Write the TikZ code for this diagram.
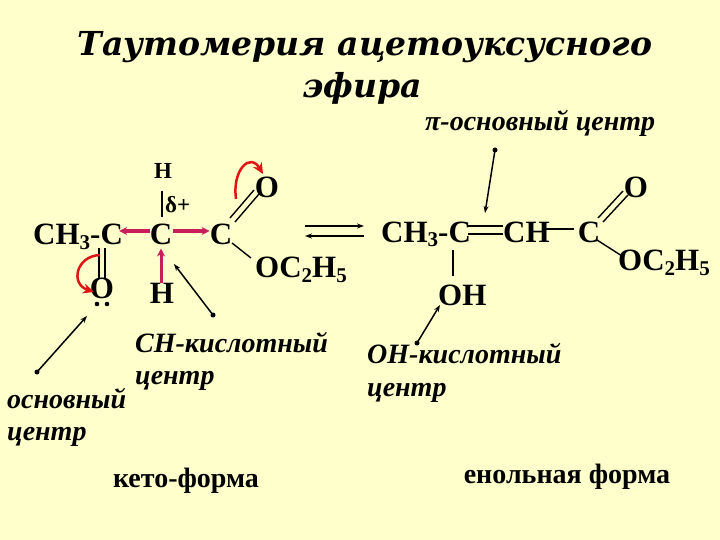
\documentclass[tikz,border=0pt]{standalone}
\usepackage{fontspec}
\setmainfont{Liberation Serif}
\newfontfamily\titlefont{DejaVu Serif}
\usetikzlibrary{arrows.meta}
\definecolor{bg}{RGB}{255,255,204}
\definecolor{crim}{RGB}{200,30,90}
\definecolor{redarr}{RGB}{225,20,20}
\newcommand\chsub[1]{\raisebox{-5pt}{\fontsize{21}{21}\selectfont #1}}
\begin{document}
\begin{tikzpicture}[x=1pt,y=-1pt,
  chem/.style={font=\fontsize{31}{32}\selectfont\bfseries, inner sep=0pt},
  chems/.style={font=\fontsize{23}{24}\selectfont\bfseries, inner sep=0pt},
  lab/.style={font=\fontsize{28}{29}\selectfont\bfseries\itshape, inner sep=0pt, anchor=base west},
  form/.style={font=\fontsize{28}{30}\selectfont\bfseries, inner sep=0pt, anchor=base},
  ttl/.style={font=\fontsize{33}{35}\selectfont\titlefont\bfseries\itshape, inner sep=0pt, anchor=base},
  bond/.style={line width=1.4pt},
  crarrow/.style={crim, line width=3pt, -{Stealth[length=8pt,width=8pt]}},
  redcurve/.style={redarr, line width=2.5pt, -{Stealth[length=11pt,width=10pt]}},
  ptr/.style={line width=1.5pt, -{Stealth[length=7pt,width=5pt]}},
  eq/.style={line width=1.5pt, -{Stealth[length=7pt,width=5pt]}},
  dotc/.style={circle, fill=black, inner sep=0pt, minimum size=5pt}]
\fill[bg] (0,0) rectangle (720,540);
\useasboundingbox (0,0) rectangle (720,540);

% title
\node[ttl] (t1) at (365,56) {Таутомерия ацетоуксусного};
\node[ttl] (t2) at (362,98) {эфира};

% keto form
\node[chem, anchor=base west] (k1) at (33,244) {CH\chsub{3}-C};
\node[chem, anchor=base] (k2) at (161,244) {C};
\node[chem, anchor=base] (k3) at (221,244) {C};
\node[chems, anchor=base] (kHt) at (163,179) {H};
\node[font=\fontsize{23}{24}\selectfont\bfseries, inner sep=0pt, anchor=base west] (kdel) at (165,212) {δ+};
\node[chem, anchor=base] (kO1) at (267,197) {O};
\node[chem, anchor=base west] (kOEt) at (255,277) {OC\chsub{2}H\chsub{5}};
\node[chem, anchor=base] (kO2) at (102,298) {O};
\node[chem, anchor=base] (kHb) at (162,303) {H};
\fill (97,304) circle (2.3pt) (107,304) circle (2.3pt);

\draw[bond] (99,248) -- (99,279) (105,248) -- (105,279);
\draw[bond] (162,191) -- (162,217);
\draw[bond] (230,218) -- (254,190) (235,222) -- (259,194);
\draw[bond] (232,243) -- (251,258);

\draw[crarrow] ([yshift=13pt]k2.base west) -- ([yshift=13pt,xshift=-4pt]k1.base east);
\draw[crarrow] ([yshift=13pt,xshift=1pt]k2.base east) -- ([yshift=13pt]k3.base west);
\draw[crarrow] ([xshift=-1pt]kHb.north) -- ([yshift=-4pt]k2.south);

\draw[redcurve] (100,255) .. controls (76,256) and (70,284) .. (94,292);
\draw[redcurve] (236,199) .. controls (232,170) and (250,152) .. (263,174);

% equilibrium
\coordinate (eqa) at (305,226);
\coordinate (eqb) at (364,226);
\coordinate (eqc) at (364,236);
\coordinate (eqd) at (305,236);
\draw[eq] (eqa) -- (eqb);
\draw[eq] (eqc) -- (eqd);

% enol form
\node[chem, anchor=base west] (e1) at (381,242) {CH\chsub{3}-C};
\node[chem, anchor=base west] (e2) at (503,242) {CH};
\node[chem, anchor=base] (e3) at (589,242) {C};
\node[chem, anchor=base] (eO1) at (636,198) {O};
\node[chem, anchor=base west] (eOEt) at (618,270) {OC\chsub{2}H\chsub{5}};
\node[chem, anchor=base west] (eOH) at (438,305) {OH};
\draw[bond] (468,226) -- (503,226) (468,234) -- (503,234);
\draw[bond] (542,229) -- (574,229);
\draw[bond] (598,218) -- (623,191) (603,222) -- (628,195);
\draw[bond] (597,240) -- (622,256);
\draw[bond] (453,250) -- (453,276);

% labels
\node[lab] (lpi) at (425,131) {π-основный центр};
\node[lab] (lch1) at (135,352) {СН-кислотный};
\node[lab] (lch2) at (135,384) {центр};
\node[lab] (lb1) at (7,408) {основный};
\node[lab] (lb2) at (7,440) {центр};
\node[lab] (loh1) at (367,363) {ОН-кислотный};
\node[lab] (loh2) at (367,396) {центр};
\node[form] (fk) at (186,487) {кето-форма};
\node[form] (fe) at (567,483) {енольная форма};

% pointers
\node[dotc] (d1) at (37,372) {};
\coordinate (a1) at (87,316);
\draw[ptr] (d1.center) -- (a1);
\node[dotc] (d2) at (213,315) {};
\coordinate (a2) at (174,264);
\draw[ptr] (d2.center) -- (a2);
\node[dotc] (d3) at (495,150) {};
\coordinate (a3) at (485,213);
\draw[ptr] (d3.center) -- (a3);
\node[dotc] (d4) at (417,343) {};
\coordinate (a4) at (440,305);
\draw[ptr] (d4.center) -- (a4);
\end{tikzpicture}
\end{document}
